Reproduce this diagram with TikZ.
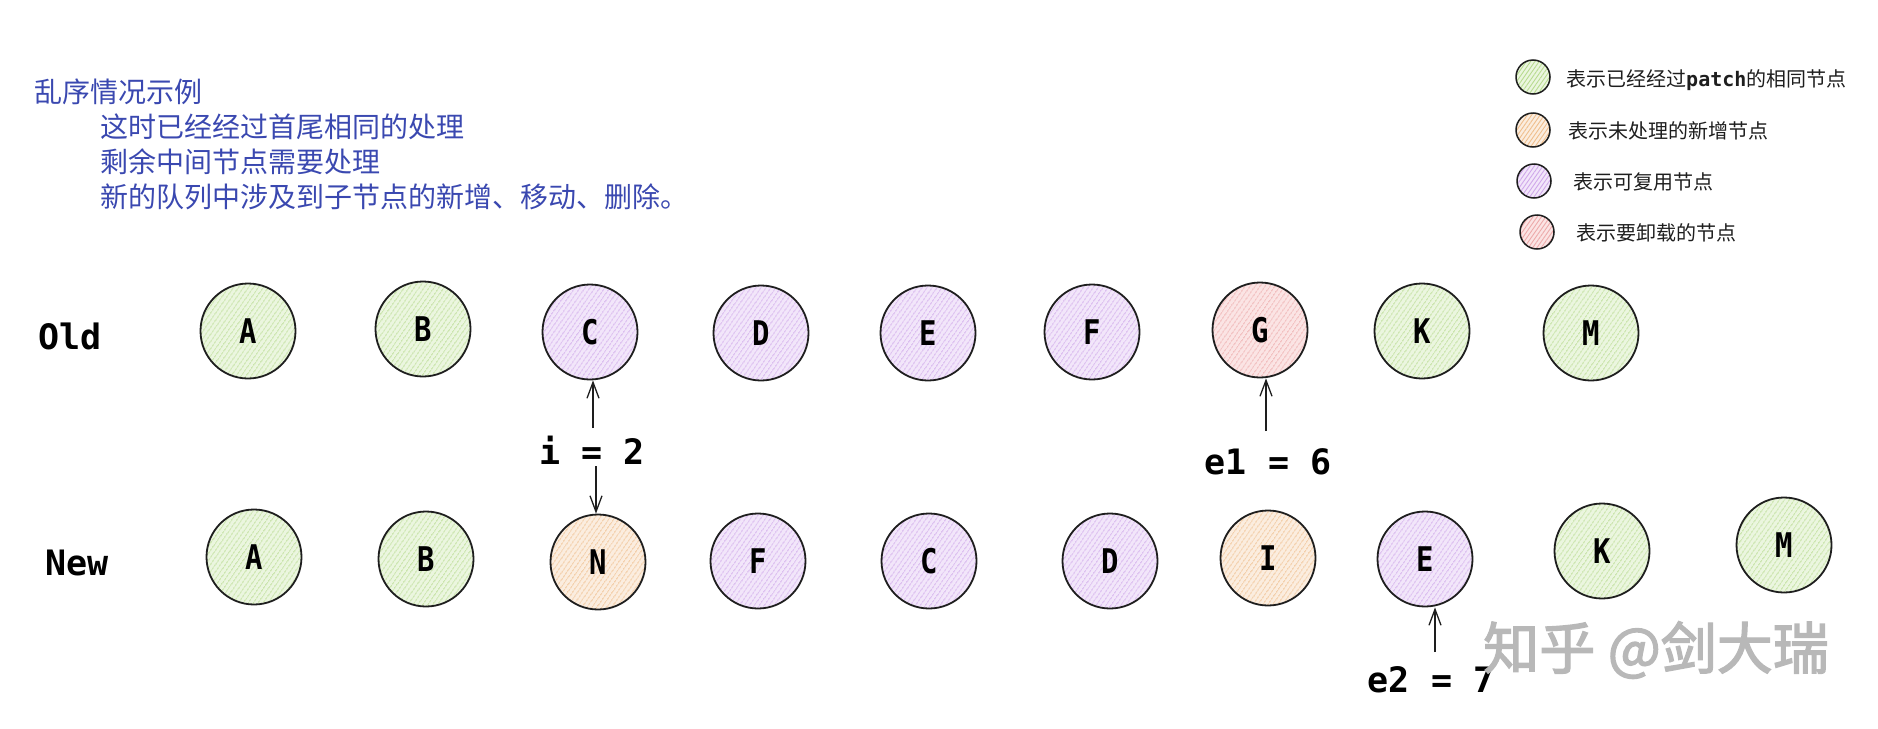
\documentclass[tikz,border=0pt]{standalone}
\usepackage{fontspec}
\setmainfont{DejaVu Sans}
\newfontfamily\cjk{Noto Sans CJK SC}
\newfontfamily\cjkb[FakeBold=2.5]{Noto Sans CJK SC}
\newfontfamily\monob{DejaVu Sans Mono Bold}
\newfontfamily\monoc[FakeStretch=0.85]{DejaVu Sans Mono Bold}
\usetikzlibrary{patterns.meta,arrows.meta}
\definecolor{titleblue}{HTML}{3A48B0}
\definecolor{ink}{HTML}{1E1E1E}
\definecolor{gbase}{HTML}{EBF6DF}\definecolor{gline}{HTML}{B8DB90}
\definecolor{obase}{HTML}{FBEDDF}\definecolor{oline}{HTML}{EFBE8C}
\definecolor{pbase}{HTML}{F2E6FA}\definecolor{pline}{HTML}{CFA8EA}
\definecolor{rbase}{HTML}{FBE4E4}\definecolor{rline}{HTML}{EDAAAA}
\tikzset{
  vnode/.style={circle, draw=ink, line width=1.8pt, minimum size=95pt, inner sep=0pt,
    font=\monoc\fontsize{34}{34}\selectfont, text=black},
  gnode/.style={vnode, preaction={fill=gbase}, pattern={Lines[angle=55,distance=4pt,line width=1pt]}, pattern color=gline},
  onode/.style={vnode, preaction={fill=obase}, pattern={Lines[angle=55,distance=4pt,line width=1pt]}, pattern color=oline},
  pnode/.style={vnode, preaction={fill=pbase}, pattern={Lines[angle=55,distance=4pt,line width=1pt]}, pattern color=pline},
  rnode/.style={vnode, preaction={fill=rbase}, pattern={Lines[angle=55,distance=4pt,line width=1pt]}, pattern color=rline},
  lgcirc/.style={circle, draw=ink, line width=1.5pt, minimum size=34pt, inner sep=0pt,
    pattern={Lines[angle=55,distance=3.5pt,line width=0.9pt]}},
  lgtext/.style={anchor=west, inner sep=0pt, text=ink, font=\cjk\fontsize{20}{20}\selectfont},
  titletext/.style={anchor=west, inner sep=0pt, text=titleblue, font=\cjk\fontsize{28}{28}\selectfont},
  monolabel/.style={inner sep=0pt, text=black, font=\monob\fontsize{35}{35}\selectfont},
  ptr/.style={draw=ink, line width=1.3pt, -{Straight Barb[length=16pt,width=12pt,line width=1.3pt]}},
}
\begin{document}
\begin{tikzpicture}[x=1pt,y=-1pt]
\useasboundingbox (0,0) rectangle (1878,728);
% title
\node[titletext] (t0) at (34,92) {乱序情况示例};
\node[titletext] (t1) at (100,127) {这时已经经过首尾相同的处理};
\node[titletext] (t2) at (100,162) {剩余中间节点需要处理};
\node[titletext] (t3) at (100,197) {新的队列中涉及到子节点的新增、移动、删除。};
% legend
\node[lgcirc, preaction={fill=gbase}, pattern color=gline] (l1) at (1533,77) {};
\node[lgcirc, preaction={fill=obase}, pattern color=oline] (l2) at (1533,130) {};
\node[lgcirc, preaction={fill=pbase}, pattern color=pline] (l3) at (1534,181) {};
\node[lgcirc, preaction={fill=rbase}, pattern color=rline] (l4) at (1537,232) {};
\node[lgtext] (lt1) at (1566,80) {表示已经经过{\monob patch}的相同节点};
\node[lgtext] (lt2) at (1568,131) {表示未处理的新增节点};
\node[lgtext] (lt3) at (1573,182) {表示可复用节点};
\node[lgtext] (lt4) at (1576,233) {表示要卸载的节点};
% row labels
\node[monolabel] (old) at (70,336) {Old};
\node[monolabel] (new) at (77,563) {New};
% old row
\node[gnode] (oA) at (248,331) {A};
\node[gnode] (oB) at (423,329) {B};
\node[pnode] (oC) at (590,332) {C};
\node[pnode] (oD) at (761,333) {D};
\node[pnode] (oE) at (928,333) {E};
\node[pnode] (oF) at (1092,332) {F};
\node[rnode] (oG) at (1260,330) {G};
\node[gnode] (oK) at (1422,331) {K};
\node[gnode] (oM) at (1591,333) {M};
% new row
\node[gnode] (nA) at (254,557) {A};
\node[gnode] (nB) at (426,559) {B};
\node[onode] (nN) at (598,562) {N};
\node[pnode] (nF) at (758,561) {F};
\node[pnode] (nC) at (929,561) {C};
\node[pnode] (nD) at (1110,561) {D};
\node[onode] (nI) at (1268,558) {I};
\node[pnode] (nE) at (1425,559) {E};
\node[gnode] (nK) at (1602,551) {K};
\node[gnode] (nM) at (1784,545) {M};
% pointers
\node[monolabel] (iv) at (592,450) {i = 2};
\node[monolabel] (e1) at (1268,462) {e1 = 6};
\node[monolabel] (e2) at (1431,680) {e2 = 7};
\coordinate (iu) at (593,428);
\coordinate (id) at (596,466);
\coordinate (e1u) at (1266,431);
\coordinate (e2u) at (1435,652);
\draw[ptr] (iu) -- (iu |- oC.south);
\draw[ptr] (id) -- (id |- nN.north);
\draw[ptr] (e1u) -- (e1u |- oG.south);
\draw[ptr] (e2u) -- (e2u |- nE.south);
% watermark
\node[inner sep=0pt, text=black!28, font=\cjkb\fontsize{56}{56}\selectfont] (wm) at (1656,650) {知乎 @剑大瑞};
\end{tikzpicture}
\end{document}
